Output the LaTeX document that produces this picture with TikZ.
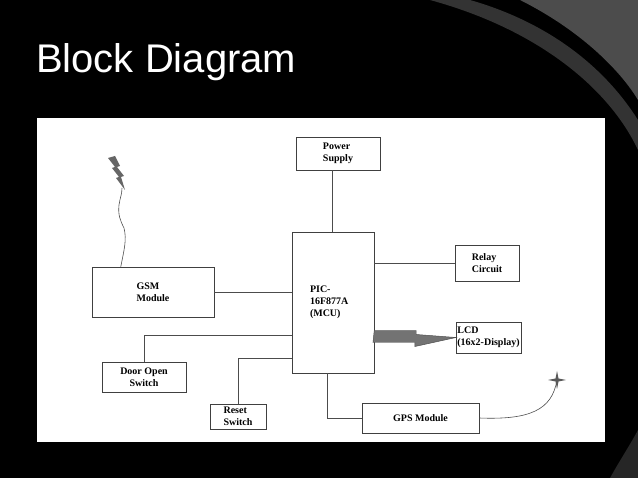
\documentclass[tikz,border=0pt]{standalone}
\usepackage{fontspec}
\setmainfont{Liberation Serif}
\newfontfamily\titlefont{Liberation Sans}
\usetikzlibrary{shapes,arrows,positioning,calc}
\def\pxu{0.85pt}
\begin{document}
\begin{tikzpicture}[x=0.85pt, y=-0.85pt,
    block/.style = {rectangle, draw=black!75, fill=white, align=left, font=\bfseries\fontsize{8.5}{10}\selectfont, inner sep=1pt},
    wire/.style = {draw=black!70, line width=0.5pt},
    ]
        % Slide
        \fill[black] (0,0) rectangle (638,478);
        \fill[black!80] (430,0) .. controls (540,30) and (610,90) .. (638,150) -- (638,120) .. controls (600,60) and (540,20) .. (470,0) -- cycle;
        \fill[black!70] (520,0) .. controls (580,30) and (620,70) .. (638,100) -- (638,0) -- cycle;
        \fill[black!85] (610,478) .. controls (620,460) and (630,445) .. (638,430) -- (638,478) -- cycle;
        \node[anchor=west, text=white, font=\titlefont\fontsize{34}{36}\selectfont] (title) at (32,62) {Block Diagram};
        \fill[white] (37,118) rectangle (605,442);

        % Nodes
        \node[block, minimum width=84*\pxu, minimum height=33*\pxu] (power) at (338,153.5) {Power\\Supply};
        \node[block, minimum width=82*\pxu, minimum height=141*\pxu, text width=46*\pxu] (mcu) at (333,302.5) {PIC-\\16F877A\\(MCU)};
        \node[block, minimum width=122*\pxu, minimum height=50*\pxu] (gsm) at (153,292) {GSM\\Module};
        \node[block, minimum width=84*\pxu, minimum height=30*\pxu, align=center] (door) at (144,377) {Door Open\\Switch};
        \node[block, minimum width=56*\pxu, minimum height=25*\pxu] (reset) at (238,416.5) {Reset\\Switch};
        \node[block, minimum width=64*\pxu, minimum height=36*\pxu] (relay) at (487,263) {Relay\\Circuit};
        \node[block, minimum width=63*\pxu, minimum height=31*\pxu] (lcd) at (488.5,337.5) {LCD\\(16x2-Display)};
        \node[block, minimum width=117*\pxu, minimum height=30*\pxu] (gps) at (420.5,418) {GPS Module};
        %
        \coordinate (sky) at (122,188);
        \coordinate (star) at (557,380);

        % Draw
        \draw[wire] ($(mcu.north)+(-1,0)$) -- ($(power.south)+(-6,0)$);
        \draw[wire] (gsm.east) -- (gsm.east-|mcu.west);
        \draw[wire] ($(mcu.west)+(0,33)$) -| (door.north);
        \draw[wire] ($(mcu.west)+(0,56)$) -| (reset.north);
        \draw[wire] (relay.west) -- (relay.west-|mcu.east);
        \draw[wire] ($(mcu.south)+(-6,0)$) |- (gps.west);
        \draw[fill=black!55, draw=black!70] ($(mcu.east)+(0,28)$) -- ++(42,0) -- ++(0,4) -- (lcd.west) -- ++(-41,9) -- ++(0,-4) -- ++(-42,0) -- cycle;
        \draw[wire] (gps.east) .. controls (530,420) and (552,410) .. (star);
        \fill[black!65] (star) ++(0,-9) -- ++(1.5,7.5) -- ++(7.5,1.5) -- ++(-7.5,1.5) -- ++(-1.5,7.5) -- ++(-1.5,-7.5) -- ++(-7.5,-1.5) -- ++(7.5,-1.5) -- cycle;
        \draw[wire] (gsm.north west)++(29,0) .. controls (124,250) and (127,240) .. (124,228) .. controls (120,220) and (118,215) .. (119,205) .. controls (120,198) and (122,194) .. (sky);
        \fill[black!60] (125,190) -- (116,178) -- (119,177) -- (112,168) -- (115,167) -- (108,158) -- (115,156) -- (120,166) -- (117,167) -- (124,176) -- (121,177) -- cycle;
\end{tikzpicture}
\end{document}
